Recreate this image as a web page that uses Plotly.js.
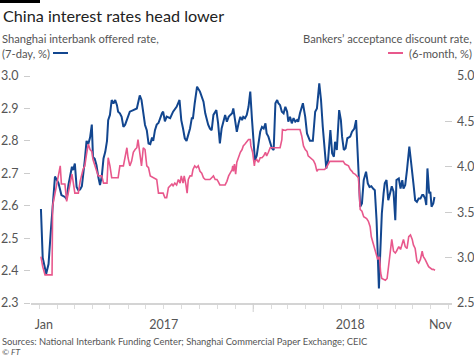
<!DOCTYPE html>
<html>
<head>
<meta charset="utf-8">
<script src="https://cdn.plot.ly/plotly-3.0.1.min.js"></script>
<style>
html,body{margin:0;padding:0;background:#fff;}
#chart{width:474px;height:358px;}
</style>
</head>
<body>
<div id="chart"></div>
<script>
// ---- Data ----
const shiborDates = [
"2017-01-03","2017-01-06","2017-01-12","2017-01-16","2017-01-20","2017-01-23","2017-01-27","2017-02-02","2017-02-07","2017-02-13",
"2017-02-16","2017-02-19","2017-02-25","2017-02-27","2017-03-02","2017-03-05","2017-03-08","2017-03-11","2017-03-14","2017-03-19",
"2017-03-22","2017-03-25","2017-03-28","2017-03-31","2017-04-02","2017-04-05","2017-04-08","2017-04-11","2017-04-14","2017-04-17",
"2017-04-20","2017-04-23","2017-04-26","2017-04-28","2017-05-01","2017-05-04","2017-05-07","2017-05-10","2017-05-13","2017-05-15",
"2017-05-18","2017-05-21","2017-05-24","2017-05-27","2017-05-30","2017-06-04","2017-06-10","2017-06-16","2017-06-21","2017-06-24",
"2017-06-30","2017-07-03","2017-07-06","2017-07-09","2017-07-12","2017-07-14","2017-07-17","2017-07-20","2017-07-23","2017-07-26",
"2017-07-29","2017-07-31","2017-08-03","2017-08-06","2017-08-12","2017-08-17","2017-08-23","2017-08-28","2017-08-31","2017-09-03",
"2017-09-06","2017-09-09","2017-09-12","2017-09-15","2017-09-18","2017-09-20","2017-09-23","2017-09-27","2017-10-02","2017-10-05",
"2017-10-08","2017-10-11","2017-10-14","2017-10-16","2017-10-19","2017-10-22","2017-10-25","2017-10-30","2017-11-02","2017-11-05",
"2017-11-08","2017-11-11","2017-11-14","2017-11-17","2017-11-20","2017-11-23","2017-11-26","2017-11-28","2017-12-01","2017-12-04",
"2017-12-07","2017-12-10","2017-12-13","2017-12-15","2017-12-18","2017-12-21","2017-12-24","2017-12-27","2017-12-30","2018-01-02",
"2018-01-04","2018-01-07","2018-01-10","2018-01-13","2018-01-16","2018-01-19","2018-01-22","2018-01-24","2018-01-27","2018-01-30",
"2018-02-02","2018-02-05","2018-02-08","2018-02-11","2018-02-13","2018-02-16","2018-02-19","2018-02-22","2018-02-25","2018-02-28",
"2018-03-02","2018-03-05","2018-03-08","2018-03-11","2018-03-14","2018-03-17","2018-03-19","2018-03-22","2018-03-27","2018-03-31",
"2018-04-03","2018-04-08","2018-04-13","2018-04-17","2018-04-20","2018-04-24","2018-04-27","2018-04-30","2018-05-03","2018-05-06",
"2018-05-09","2018-05-13","2018-05-16","2018-05-19","2018-05-21","2018-05-24","2018-05-26","2018-05-28","2018-05-31","2018-06-02",
"2018-06-05","2018-06-08","2018-06-11","2018-06-16","2018-06-19","2018-06-23","2018-06-26","2018-06-28","2018-07-01","2018-07-03",
"2018-07-06","2018-07-09","2018-07-13","2018-07-16","2018-07-19","2018-07-22","2018-07-25","2018-07-28","2018-07-31","2018-08-02",
"2018-08-04","2018-08-06","2018-08-09","2018-08-12","2018-08-14","2018-08-17","2018-08-20","2018-08-23","2018-08-26","2018-08-29",
"2018-09-01","2018-09-03","2018-09-07","2018-09-10","2018-09-13","2018-09-15","2018-09-18","2018-09-21","2018-09-25","2018-09-27",
"2018-09-30","2018-10-02","2018-10-05","2018-10-08","2018-10-11","2018-10-14","2018-10-17","2018-10-19","2018-10-22","2018-10-24",
"2018-10-26","2018-10-29","2018-10-31","2018-11-02","2018-11-05","2018-11-07"
];
const shiborValues = [
2.59,2.44,2.39,2.42,2.525,2.60,2.69,2.67,2.633,2.627,
2.62,2.664,2.72,2.71,2.73,2.658,2.648,2.65,2.66,2.74,
2.80,2.79,2.81,2.85,2.75,2.745,2.725,2.69,2.664,2.69,
2.746,2.766,2.80,2.864,2.88,2.926,2.915,2.926,2.91,2.89,
2.885,2.874,2.843,2.85,2.864,2.89,2.895,2.90,2.94,2.926,
2.849,2.833,2.792,2.79,2.81,2.80,2.833,2.85,2.855,2.874,
2.885,2.89,2.86,2.875,2.87,2.89,2.905,2.926,2.864,2.838,
2.808,2.80,2.818,2.838,2.87,2.87,2.916,2.967,2.952,2.936,
2.921,2.885,2.859,2.85,2.838,2.833,2.88,2.895,2.854,2.792,
2.838,2.859,2.88,2.859,2.874,2.88,2.885,2.90,2.864,2.828,
2.854,2.874,2.864,2.874,2.87,2.88,2.905,2.952,2.864,2.80,
2.74,2.754,2.80,2.828,2.843,2.838,2.854,2.823,2.813,2.797,
2.777,2.772,2.916,2.926,2.916,2.91,2.89,2.885,2.905,2.89,
2.859,2.874,2.854,2.87,2.859,2.864,2.859,2.885,2.916,2.874,
2.823,2.80,2.80,2.89,2.90,2.977,2.926,2.843,2.772,2.715,
2.74,2.833,2.762,2.751,2.797,2.772,2.833,2.895,2.864,2.813,
2.772,2.777,2.808,2.813,2.828,2.838,2.864,2.797,2.689,2.597,
2.607,2.679,2.705,2.669,2.658,2.66,2.653,2.648,2.555,2.463,
2.345,2.442,2.576,2.638,2.669,2.679,2.617,2.638,2.66,2.643,
2.555,2.679,2.684,2.653,2.679,2.653,2.664,2.71,2.782,2.751,
2.71,2.669,2.617,2.612,2.622,2.622,2.633,2.633,2.622,2.602,
2.715,2.638,2.643,2.597,2.607,2.627
];

const bankersDates = [
"2017-01-03","2017-01-06","2017-01-10","2017-01-22","2017-01-23","2017-01-27","2017-01-30","2017-02-05","2017-02-07","2017-02-13",
"2017-02-16","2017-02-19","2017-02-22","2017-02-25","2017-02-27","2017-03-02","2017-03-08","2017-03-11","2017-03-16","2017-03-19",
"2017-03-22","2017-03-25","2017-03-28","2017-03-31","2017-04-02","2017-04-05","2017-04-08","2017-04-11","2017-04-17","2017-04-20",
"2017-04-26","2017-04-28","2017-05-01","2017-05-04","2017-05-15","2017-05-18","2017-05-24","2017-05-27","2017-05-30","2017-06-01",
"2017-06-04","2017-06-07","2017-06-10","2017-06-13","2017-06-16","2017-06-18","2017-06-21","2017-06-24","2017-06-27","2017-06-30",
"2017-07-03","2017-07-06","2017-07-09","2017-07-20","2017-07-23","2017-07-31","2017-08-03","2017-08-06","2017-08-09","2017-08-15",
"2017-08-17","2017-08-20","2017-08-23","2017-08-26","2017-08-29","2017-08-31","2017-09-03","2017-09-05","2017-09-08","2017-09-10",
"2017-09-12","2017-09-15","2017-09-18","2017-09-20","2017-09-23","2017-09-26","2017-09-29","2017-10-02","2017-10-05","2017-10-08",
"2017-10-11","2017-10-19","2017-10-22","2017-10-25","2017-10-28","2017-10-31","2017-11-02","2017-11-05","2017-11-14","2017-11-17",
"2017-11-20","2017-11-23","2017-11-26","2017-11-27","2017-11-28","2017-11-30","2017-12-02","2017-12-04","2017-12-07","2017-12-10",
"2017-12-13","2017-12-15","2017-12-18","2017-12-21","2017-12-24","2017-12-27","2017-12-28","2017-12-31","2018-01-03","2018-01-04",
"2018-01-07","2018-01-10","2018-01-13","2018-01-16","2018-01-19","2018-01-22","2018-01-24","2018-01-27","2018-01-30","2018-02-16",
"2018-02-19","2018-02-20","2018-02-25","2018-02-28","2018-03-22","2018-03-25","2018-03-28","2018-03-31","2018-04-03","2018-04-05",
"2018-04-08","2018-04-11","2018-04-14","2018-04-17","2018-04-20","2018-04-22","2018-05-03","2018-05-06","2018-05-09","2018-05-12",
"2018-06-04","2018-06-07","2018-06-13","2018-06-16","2018-06-19","2018-06-21","2018-06-24","2018-06-27","2018-06-30","2018-07-03",
"2018-07-06","2018-07-09","2018-07-14","2018-07-17","2018-07-20","2018-07-22","2018-07-25","2018-07-27","2018-07-31","2018-08-02",
"2018-08-05","2018-08-07","2018-08-09","2018-08-15","2018-08-18","2018-08-20","2018-08-23","2018-08-26","2018-08-29","2018-09-01",
"2018-09-03","2018-09-07","2018-09-10","2018-09-13","2018-09-15","2018-09-18","2018-09-21","2018-09-24","2018-09-27","2018-09-30",
"2018-10-02","2018-10-05","2018-10-08","2018-10-11","2018-10-14","2018-10-17","2018-10-19","2018-10-22","2018-10-25","2018-10-28",
"2018-11-03","2018-11-05","2018-11-08"
];
const bankersValues = [
3.01,2.90,2.81,2.81,3.57,3.72,3.83,4.01,3.81,3.81,
3.62,3.71,3.81,3.92,3.84,3.71,3.71,3.84,3.97,4.01,
4.14,4.25,4.19,4.17,4.08,4.01,3.97,3.90,3.90,3.82,
3.82,4.10,4.01,3.88,3.88,4.01,4.01,4.12,4.21,4.10,
4.01,4.06,4.16,4.19,4.21,4.30,4.17,4.01,4.21,4.19,
4.01,3.99,3.90,3.86,3.71,3.71,3.66,3.66,3.77,3.81,
3.79,3.82,3.80,3.86,3.82,3.90,3.82,3.90,3.80,3.71,
3.86,3.90,3.90,3.97,4.01,3.99,4.01,3.95,3.93,3.88,
3.86,3.86,3.88,3.90,3.86,3.86,3.84,3.80,3.80,3.84,
3.90,3.93,3.97,4.01,3.95,4.03,3.92,4.05,4.12,4.16,
4.19,4.23,4.25,4.27,4.30,4.30,4.23,4.16,4.01,4.06,
4.08,4.05,4.10,4.10,4.12,4.16,4.12,4.16,4.21,4.21,
4.30,4.41,4.40,4.41,4.41,4.34,4.23,4.19,4.17,4.12,
4.10,4.08,4.07,4.03,3.95,3.97,3.97,3.99,4.03,4.06,
4.06,4.03,4.01,3.97,3.95,3.93,3.92,3.90,3.88,3.53,
3.51,3.45,3.43,3.40,3.34,3.23,3.16,3.12,3.01,2.98,
3.01,2.83,2.77,2.75,2.77,2.87,3.01,3.20,3.07,3.05,
3.07,3.12,3.09,3.16,3.20,3.12,3.10,3.23,3.25,3.20,
3.14,3.10,2.96,2.94,2.98,3.07,3.01,2.98,2.94,2.90,
2.87,2.87,2.86
];

const xTickVals = ["2017-01-08","2017-08-01","2018-06-16","2018-11-17"];
const xTickText = ["Jan","2017","2018","Nov"];
const leftTickVals = [2.3,2.4,2.5,2.6,2.7,2.8,2.9,3.0];
const rightTickVals = [2.5,3.0,3.5,4.0,4.5,5.0];

// ---- Layout geometry ----
const W = 474, H = 358;
const M = {l:31, r:22, t:76, b:55};
const pw = W - M.l - M.r, ph = H - M.t - M.b;
const px = x => (x - M.l) / pw;
const py = y => 1 - (y - M.t) / ph;

const BLUE = "#12468f";
const PINK = "#e8588c";
const FONT = "Lato, 'Noto Sans', sans-serif";
const GREY = "#555555";

const traces = [
  {x: shiborDates, y: shiborValues, type: "scatter", mode: "lines",
   line: {color: BLUE, width: 2}, yaxis: "y", hoverinfo: "skip"},
  {x: bankersDates, y: bankersValues, type: "scatter", mode: "lines",
   line: {color: PINK, width: 1.6, shape: "linear"}, yaxis: "y2", hoverinfo: "skip"}
];

function ann(text, x, y, size, color, anchor, extra) {
  return Object.assign({text, xref: "paper", yref: "paper", x: px(x), y: py(y),
    xanchor: anchor || "left", yanchor: "middle", showarrow: false,
    font: {family: FONT, size, color}}, extra || {});
}

const layout = {
  width: W, height: H, margin: M,
  paper_bgcolor: "#ffffff", plot_bgcolor: "#ffffff",
  showlegend: false,
  font: {family: FONT, color: GREY, size: 12},
  xaxis: {
    type: "date", range: ["2016-12-17", "2018-12-07"],
    tickmode: "array", tickvals: xTickVals, ticktext: xTickText,
    ticks: "outside", ticklen: 9, tickcolor: "rgba(0,0,0,0)",
    showgrid: false, zeroline: false,
    showline: true, linecolor: "#d4d4d4", linewidth: 1.5,
    tickfont: {family: FONT, size: 12.5, color: GREY},
    minor: {ticks: "outside", ticklen: 4, tickcolor: "#dcdcdc", tickwidth: 1,
            dtick: "M1", tick0: "2017-01-01", showgrid: false}
  },
  yaxis: {
    range: [2.3, 3.0], tickmode: "array", tickvals: leftTickVals,
    ticktext: leftTickVals.map(v => v.toFixed(1)),
    ticks: "outside", ticklen: 6, tickcolor: "#cccccc", tickwidth: 1,
    ticklabelstandoff: 3,
    showgrid: false, zeroline: false, showline: false,
    tickfont: {family: FONT, size: 12.5, color: GREY}
  },
  yaxis2: {
    range: [2.5, 5.0], overlaying: "y", side: "right",
    tickmode: "array", tickvals: rightTickVals,
    ticktext: rightTickVals.map(v => v.toFixed(1)),
    ticks: "inside", ticklen: 7, tickcolor: "#cccccc", tickwidth: 1,
    ticklabelstandoff: 4,
    showgrid: false, zeroline: false, showline: false,
    tickfont: {family: FONT, size: 12.5, color: GREY}
  },
  shapes: [
    {type: "rect", xref: "paper", yref: "paper", x0: px(0), x1: px(40), y0: py(0), y1: py(3),
     fillcolor: "#000000", line: {width: 0}},
    {type: "line", xref: "paper", yref: "paper", x0: px(53), x1: px(68), y0: py(53), y1: py(53),
     line: {color: BLUE, width: 2}},
    {type: "line", xref: "paper", yref: "paper", x0: px(388), x1: px(403), y0: py(53), y1: py(53),
     line: {color: PINK, width: 2}},
    {type: "line", xref: "x", yref: "paper", x0: "2018-01-01", x1: "2018-01-01",
     y0: 0, y1: py(312), line: {color: "#cfcfcf", width: 1}}
  ],
  annotations: [
    ann("China interest rates head lower", 1, 16, 16.2, "#222222"),
    ann("Shanghai interbank offered rate,", 0, 38, 11.2, GREY),
    ann("(7-day, %)", 0, 53, 11.2, GREY),
    ann("Bankers\u2019 acceptance discount rate,", 474, 38, 11.2, GREY, "right"),
    ann("(6-month, %)", 474, 53, 11.2, GREY, "right"),
    ann("Sources: National Interbank Funding Center; Shanghai Commercial Paper Exchange; CEIC", 0, 341, 9.4, GREY),
    ann("<i>\u00a9 FT</i>", 0, 352, 8.5, GREY)
  ]
};

Plotly.newPlot("chart", traces, layout, {staticPlot: true, displayModeBar: false});
</script>
</body>
</html>
